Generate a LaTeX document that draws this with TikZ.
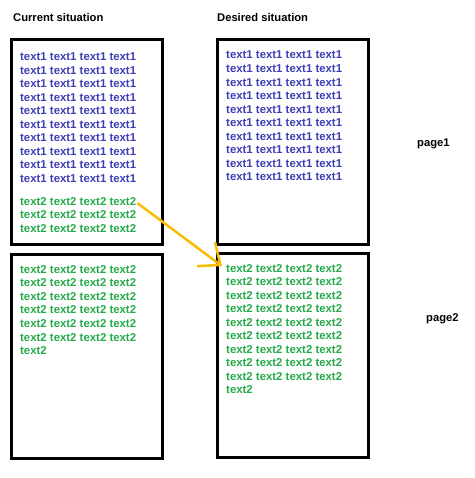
\documentclass[tikz,border=0pt]{standalone}
\usepackage{fontspec}
\setmainfont{Liberation Sans}
\usetikzlibrary{arrows.meta}
\definecolor{txtone}{RGB}{62,62,182}
\definecolor{txttwo}{RGB}{38,170,74}
\definecolor{flow}{RGB}{250,188,0}

\begin{document}
\begin{tikzpicture}[x=1pt, y=-1pt,
  font=\fontsize{11.4}{13.5}\selectfont\bfseries,
  page/.style={draw, line width=3pt, minimum width=151pt, minimum height=204pt, inner sep=0pt},
  ln/.style={anchor=base west, inner sep=0pt},
  head/.style={ln, font=\fontsize{11.2}{13.5}\selectfont\bfseries},
  one/.style={ln, text=txtone},
  two/.style={ln, text=txttwo}]
  \useasboundingbox (0,0) rectangle (474,478);
  % headings
  \node[head] (cur) at (13,22) {Current situation};
  \node[head] (des) at (217,22) {Desired situation};
  \node[head] (pg1) at (417,147) {page1};
  \node[head] (pg2) at (426,321) {page2};
  % pages
  \node[page] (c1) at (86.5,142) {};
  \node[page] (c2) at (87,356) {};
  \node[page] (d1) at (293,142) {};
  \node[page] (d2) at (293,355) {};
  % current situation
  \foreach \i in {0,...,9}
    \node[one] (c1a\i) at (20,61+13.5*\i) {text1 text1 text1 text1};
  \foreach \i in {0,1,2}
    \node[two] (c1b\i) at (20,205+13.6*\i) {text2 text2 text2 text2};
  \foreach \i in {0,...,5}
    \node[two] (c2a\i) at (20,273+13.6*\i) {text2 text2 text2 text2};
  \node[two] (c2x) at (20,273+13.6*6) {text2};
  % desired situation
  \foreach \i in {0,...,9}
    \node[one] (d1a\i) at (226,59+13.55*\i) {text1 text1 text1 text1};
  \foreach \i in {0,...,8}
    \node[two] (d2a\i) at (226,272+13.55*\i) {text2 text2 text2 text2};
  \node[two] (d2x) at (226,272+13.55*9) {text2};
  % moved line
  \draw[flow, line width=2.5pt, -{Straight Barb[length=18pt, width=30pt]}]
    ([shift={(1,2)}]c1b0.east) -- ([shift={(-4,-2)}]d2a0.west);
\end{tikzpicture}
\end{document}
